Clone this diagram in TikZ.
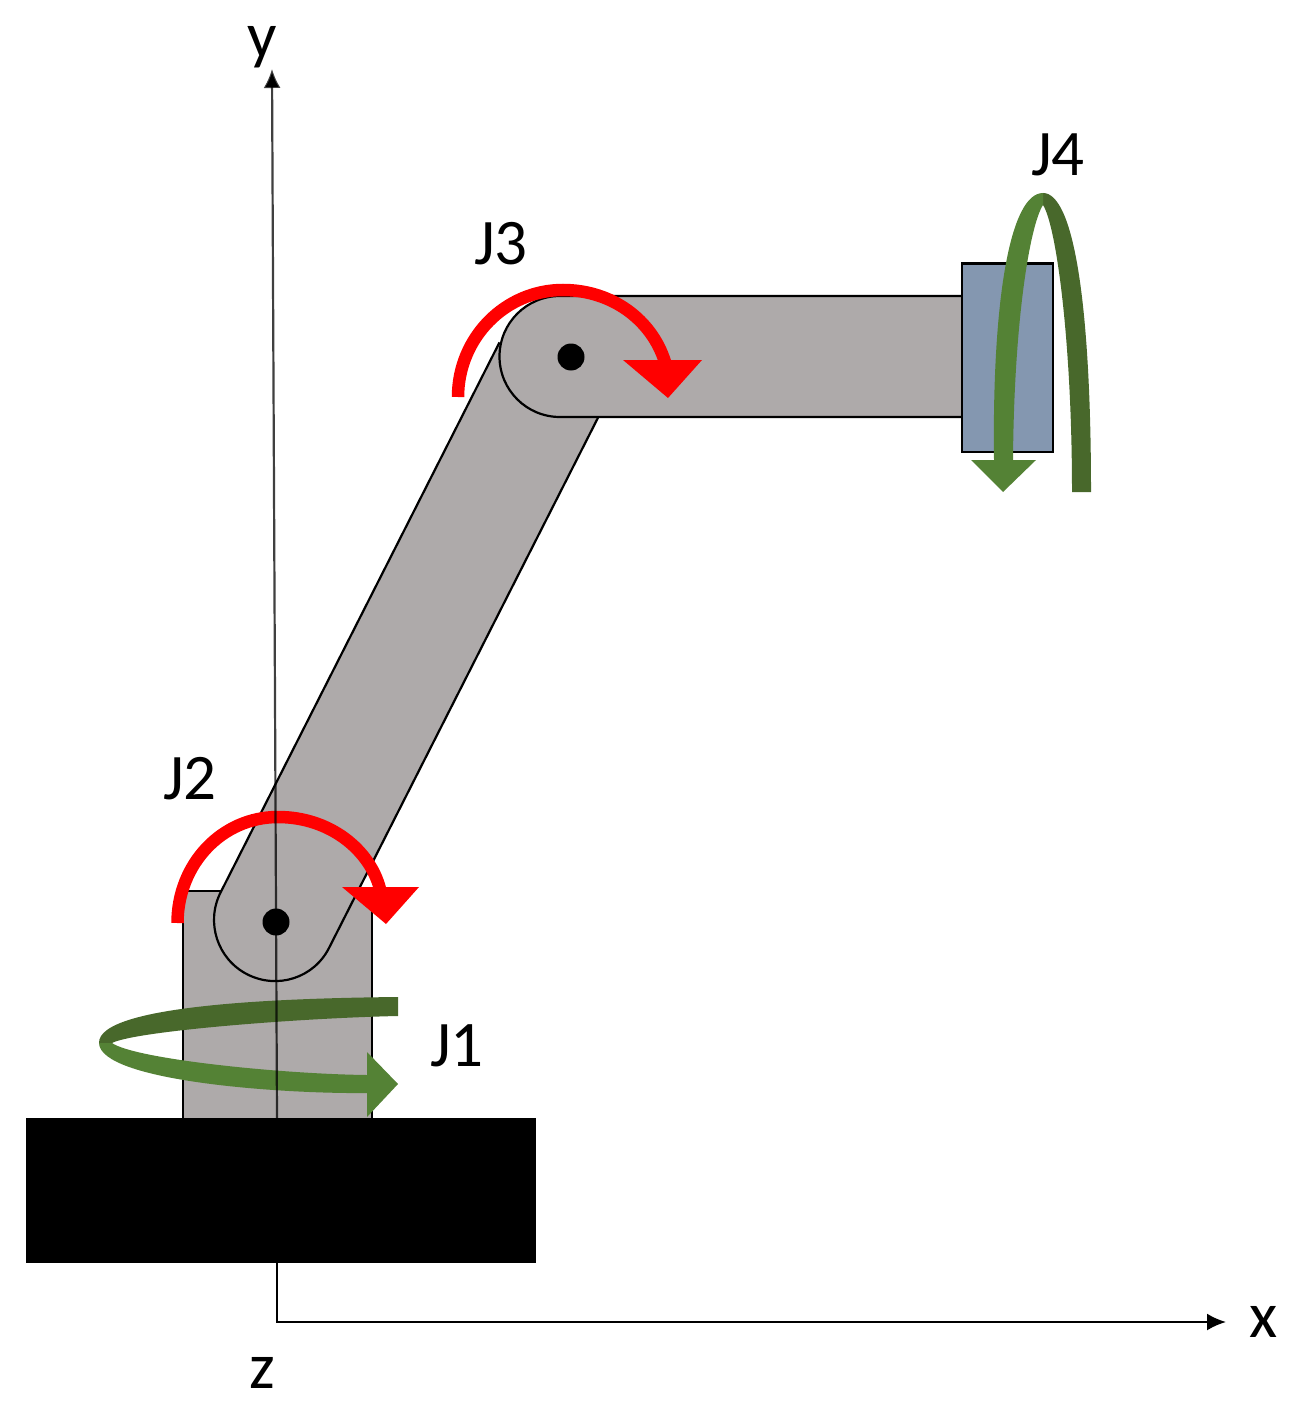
\documentclass[tikz,border=0pt]{standalone}
\usepackage{fontspec}
\setmainfont{Carlito}
\usetikzlibrary{arrows.meta}
\definecolor{armgray}{HTML}{AEAAAA}
\definecolor{toolblue}{HTML}{8497B0}
\definecolor{greenlight}{HTML}{548235}
\definecolor{greendark}{HTML}{48682B}
\definecolor{jointred}{HTML}{FF0000}
\tikzset{
  linkbody/.style={fill=armgray,draw=none},
  outline/.style={draw=black,line width=2.2pt},
  redarc/.style={draw=jointred,line width=12.5pt,line cap=butt},
  redhead/.style={fill=jointred,draw=none},
  axisline/.style={draw=black,line width=2.2pt,-{Latex[length=19pt,width=17pt]}},
  lbl/.style={font=\fontsize{65}{66}\selectfont,text=black,inner sep=0pt},
  pivot/.style={circle,fill=black,draw=none,inner sep=0pt,minimum size=27pt}
}
\begin{document}
\begin{tikzpicture}[x=1pt,y=-1pt]
\useasboundingbox (0,0) rectangle (1298,1404);
% column
\node[inner sep=0pt,minimum width=189.5pt,minimum height=228pt,fill=armgray,draw=black,line width=2.2pt,anchor=north west] (column) at (181.5,889.5) {};
% lower link
\fill[armgray] (329,948) .. controls (313.8,978) and (277.4,989.6) .. (247.4,974.4)
  .. controls (217.4,959.2) and (205.4,922.4) .. (220.6,892.4) -- (499.5,342.4) -- (608,398) -- cycle;
\draw[outline] (608,398) -- (329,948) .. controls (313.8,978) and (277.4,989.6) .. (247.4,974.4)
  .. controls (217.4,959.2) and (205.4,922.4) .. (220.6,892.4) -- (499.5,342.4);
% upper link
\fill[armgray] (961,296) -- (560,296) .. controls (526.6,296) and (499.5,323) .. (499.5,356.5)
  .. controls (499.5,390) and (526.6,417) .. (560,417) -- (961,417) -- cycle;
\draw[outline] (961,296) -- (560,296) .. controls (526.6,296) and (499.5,323) .. (499.5,356.5)
  .. controls (499.5,390) and (526.6,417) .. (560,417) -- (961,417);
% tool
\node[inner sep=0pt,minimum width=91pt,minimum height=188pt,fill=toolblue,draw=black,line width=2.5pt,anchor=north west] (tool) at (960.5,262.5) {};
% base
\node[inner sep=0pt,minimum width=510pt,minimum height=145pt,fill=black,draw=none,anchor=north west] (base) at (26,1118) {};
% J1 arrow
\fill[greendark] (398,997) .. controls (300,998) and (98,1003) .. (99,1043) -- (112,1043)
  .. controls (135,1031) and (300,1018) .. (398,1016) -- cycle;
\fill[greenlight] (99,1043) .. controls (100,1081) and (280,1094) .. (367,1093) -- (367,1117) -- (398,1084) -- (367,1052) -- (367,1075)
  .. controls (280,1074) and (135,1059) .. (112,1043) -- cycle;
% J4 arrow
\fill[greendark] (1043,193) .. controls (1073,193) and (1091,300) .. (1091,492) -- (1072,492)
  .. controls (1072,340) and (1056,225) .. (1043,205) -- cycle;
\fill[greenlight] (994,460) .. controls (992,300) and (1010,193) .. (1043,193) -- (1043,205)
  .. controls (1030,225) and (1014,320) .. (1013,460) -- (1036,460) -- (1003,492) -- (971,460) -- cycle;
% J2 arrow
\draw[redarc] (177.5,923) .. controls (177.5,864) and (222,817) .. (278,817) .. controls (330,817) and (370,850) .. (380,889);
\fill[redhead] (342,887) -- (419,887) -- (386,924) -- cycle;
% J3 arrow
\draw[redarc] (458,397) .. controls (458,338) and (505,290) .. (563,290) .. controls (612,290) and (652,320) .. (665,362);
\fill[redhead] (623,360) -- (702,360) -- (668,398) -- cycle;
% axes
\coordinate (origin) at (277,1263);
\coordinate (ybottom) at (277,1118);
\coordinate (ytip) at (272,69);
\coordinate (corner) at (277,1322);
\coordinate (xtip) at (1226,1322);
\draw[axisline,draw opacity=.75] (ybottom) -- (ytip);
\draw[axisline] (origin) -- (corner) -- (xtip);
% pivots
\node[pivot] (p2) at (276,922) {};
\node[pivot] (p3) at (571,357) {};
% labels
\node[lbl] (ly) at (262,47) {y};
\node[lbl] (lx) at (1264,1322) {x};
\node[lbl] (lz) at (262,1373) {z};
\node[lbl] (j1) at (457,1046) {J1};
\node[lbl] (j2) at (190,779) {J2};
\node[lbl] (j3) at (501,244) {J3};
\node[lbl] (j4) at (1058,155) {J4};
\end{tikzpicture}
\end{document}
